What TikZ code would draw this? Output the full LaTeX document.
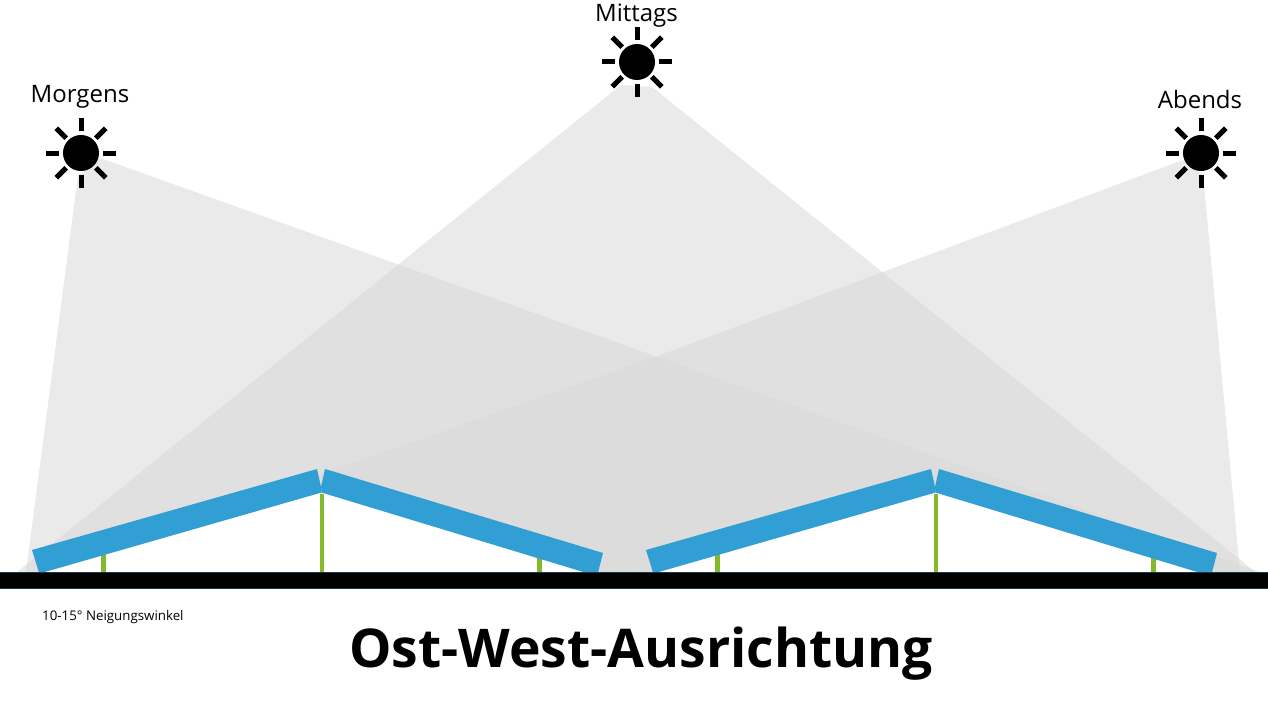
\documentclass[tikz,border=0pt]{standalone}
\usepackage{fontspec}
\setmainfont{Open Sans}
\definecolor{panelblue}{HTML}{319FD3}
\definecolor{postgreen}{HTML}{84B92C}
\definecolor{beamgray}{RGB}{217,217,217}
\definecolor{groundedge}{HTML}{1B3645}
\tikzset{
  beam/.style={fill=beamgray,fill opacity=.55,draw=none},
  panel/.style={fill=panelblue,draw=none},
  under/.style={fill=white,draw=none},
  post/.style={draw=postgreen,line width=4.2pt},
  ray/.style={draw=black,line width=5pt},
  sunlabel/.style={font=\fontsize{24}{30}\selectfont,text=black,inner sep=0pt,anchor=base},
  pics/sunicon/.style={code={
    \fill[black] (0,0) circle (18);
    \foreach \a in {0,90,180,270}{\draw[ray] (\a:22) -- (\a:35);}
    \foreach \a in {45,135,225,315}{\draw[ray] (\a:21) -- (\a:35);}
  }},
  pics/roof/.style={code={
    \fill[under] (43,572) -- (321.5,492.5) -- (585,572) -- cycle;
    \draw[post] (103.5,552) -- (103.5,572);
    \draw[post] (321.7,494) -- (321.7,572);
    \draw[post] (539.5,555) -- (539.5,572);
    \fill[panel] (32,550) -- (317,469) -- (321,487) -- (321.5,492.5) -- (43,572.5) -- (39,572.5) -- cycle;
    \fill[panel] (325,469) -- (603,553) -- (598,572.5) -- (585,572.5) -- (321.5,492.5) -- (321,487) -- cycle;
  }}
}
\begin{document}
\begin{tikzpicture}[x=1pt,y=-1pt]
\useasboundingbox (0,0) rectangle (1268,709);
\fill[white] (0,0) rectangle (1268,709);
% light beams
\fill[beam] (100,158) -- (78,176) -- (26,572) -- (1260,572) -- cycle;
\fill[beam] (621,85) -- (652,87) -- (1258,574) -- (17,572) -- cycle;
\fill[beam] (1183,160) -- (1203,174) -- (1240,572) -- (42,572) -- (655,357) -- cycle;
% roofs
\pic at (0,0) {roof};
\pic at (614,0) {roof};
% ground
\fill[black] (0,572.3) rectangle (1268,588.6);
\draw[groundedge,line width=1pt] (0,572.8) -- (1268,572.8);
\draw[groundedge,line width=1pt] (0,588.2) -- (1268,588.2);
% suns
\pic at (81,153) {sunicon};
\pic at (637,62) {sunicon};
\pic at (1201,153) {sunicon};
% text
\node[sunlabel] (morgens) at (80,102) {Morgens};
\node[sunlabel] (mittags) at (636.5,21.5) {Mittags};
\node[sunlabel] (abends) at (1200,108) {Abends};
\node[anchor=base west,inner sep=0pt,font=\fontsize{13.3}{16}\selectfont] (angle) at (42,620) {10-15° Neigungswinkel};
\node[anchor=base,inner sep=0pt,font=\fontsize{53.4}{60}\bfseries\selectfont] (title) at (641,667.5) {Ost-West-Ausrichtung};
\end{tikzpicture}
\end{document}
